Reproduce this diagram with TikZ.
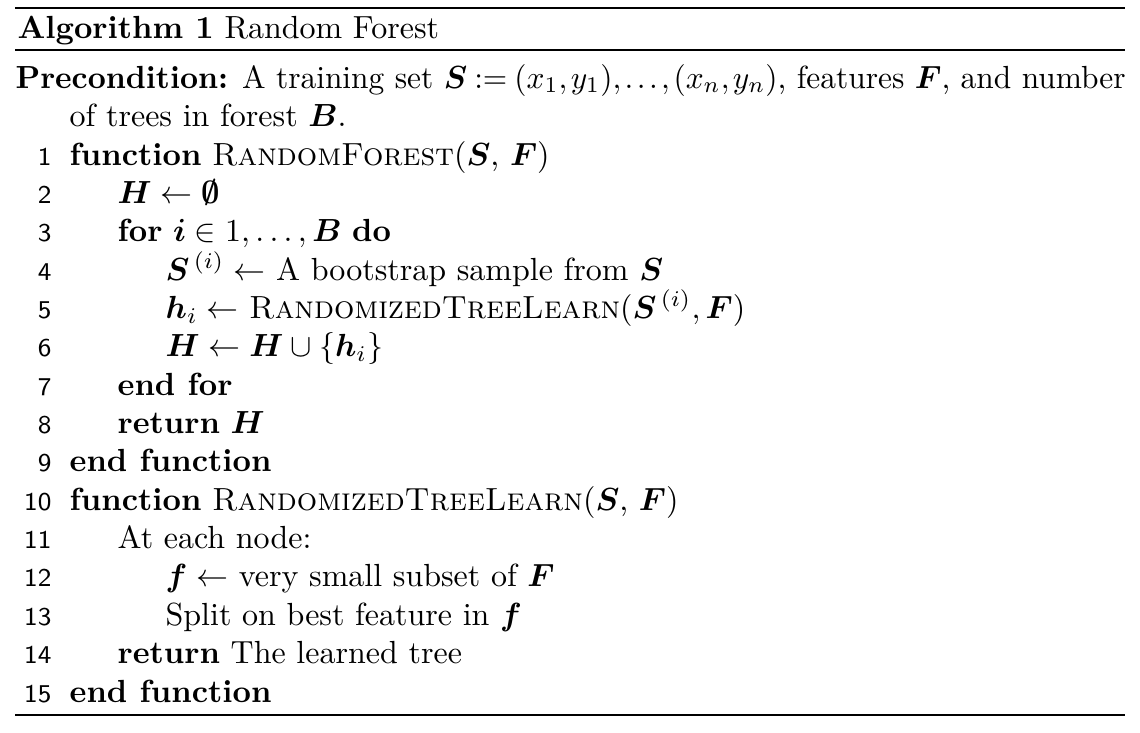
\documentclass[tikz,border=0pt]{standalone}
\usepackage{amsmath,amssymb,bm,graphicx}
\begin{document}
\begin{tikzpicture}[x=0.3125pt,y=-0.3125pt,
  num/.style={anchor=base east,inner sep=0,font=\footnotesize\sffamily},
  ln/.style={anchor=base west,inner sep=0}]
\useasboundingbox (0,0) rectangle (1140,732);
\draw[line width=0.8pt] (15,8) coordinate (tl) -- (1125,8) coordinate (tr);
\draw[line width=0.4pt] (15,50) coordinate (ml) -- (1125,50) coordinate (mr);
\draw[line width=0.4pt] (15,715) coordinate (bl) -- (1125,715) coordinate (br);
\node[ln] (cap) at (17,38) {\textbf{Algorithm 1} Random Forest};
\node[ln] (pre) at (15,88) {\resizebox{346.875pt}{\height}{\thickmuskip=4mu\thinmuskip=2mu\textbf{Precondition:} A training set $\bm{S}\mathrel{:=}(x_1,y_1),\ldots,(x_n,y_n)$, features $\bm{F}$, and number}};
\node[ln] (pre2) at (69,126) {of trees in forest $\bm{B}$.};
\def\L#1#2#3{\node[num] (n#1) at (52,{165+(#1-1)*38.36}) {#1};
  \node[ln] (l#1) at ({69+#2*48},{165+(#1-1)*38.36}) {#3};}
\L{1}{0}{\textbf{function} \textsc{RandomForest}($\bm{S}$, $\bm{F}$)}
\L{2}{1}{$\bm{H}\leftarrow\bm{\emptyset}$}
\L{3}{1}{\textbf{for} $\bm{i}\in 1,\ldots,\bm{B}$ \textbf{do}}
\L{4}{2}{$\bm{S}^{\,(i)}\leftarrow$ A bootstrap sample from $\bm{S}$}
\L{5}{2}{$\bm{h}_i\leftarrow$ \textsc{RandomizedTreeLearn}($\bm{S}^{\,(i)},\bm{F}$)}
\L{6}{2}{$\bm{H}\leftarrow\bm{H}\cup\{\bm{h}_i\}$}
\L{7}{1}{\textbf{end for}}
\L{8}{1}{\textbf{return} $\bm{H}$}
\L{9}{0}{\textbf{end function}}
\L{10}{0}{\textbf{function} \textsc{RandomizedTreeLearn}($\bm{S}$, $\bm{F}$)}
\L{11}{1}{At each node:}
\L{12}{2}{$\bm{f}\leftarrow$ very small subset of $\bm{F}$}
\L{13}{2}{Split on best feature in $\bm{f}$}
\L{14}{1}{\textbf{return} The learned tree}
\L{15}{0}{\textbf{end function}}
\end{tikzpicture}
\end{document}
